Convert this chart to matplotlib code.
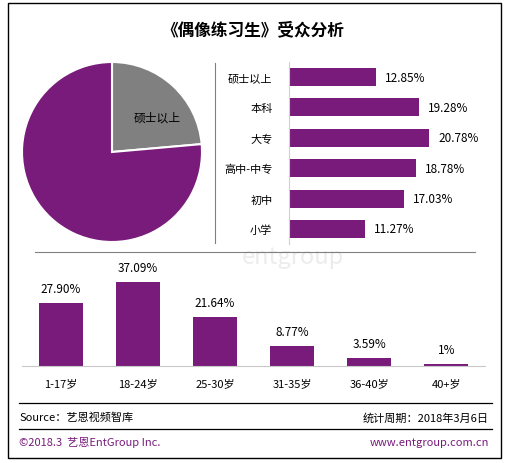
import numpy as np
import matplotlib.pyplot as plt
from matplotlib.patches import Rectangle
from matplotlib.lines import Line2D

plt.rcParams['font.family'] = ['Noto Sans CJK SC', 'DejaVu Sans']

# data
pie_labels = ["硕士以上", "其他"]
pie_values = [23.6, 76.4]

edu_labels = ["硕士以上", "本科", "大专", "高中-中专", "初中", "小学"]
edu_values = [12.85, 19.28, 20.78, 18.78, 17.03, 11.27]

age_labels = ["1-17岁", "18-24岁", "25-30岁", "31-35岁", "36-40岁", "40+岁"]
age_values = [27.90, 37.09, 21.64, 8.77, 3.59, 1.0]
age_text = ["27.90%", "37.09%", "21.64%", "8.77%", "3.59%", "1%"]

PURPLE = "#781b7b"
GRAY = "#808080"
W, H = 505, 464


def px_axes(fig, left, top, right, bottom):
    # axes placed by pixel box (top-left origin)
    return fig.add_axes([left / W, 1 - bottom / H, (right - left) / W, (bottom - top) / H])


def main():
    fig = plt.figure(figsize=(W / 100, H / 100), dpi=100)
    fig.patch.set_facecolor("white")

    # overlay for frame, lines and texts in pixel coords
    over = fig.add_axes([0, 0, 1, 1])
    over.set_xlim(0, W)
    over.set_ylim(H, 0)
    over.axis("off")
    over.add_patch(Rectangle((8, 4), 493, 455, fill=False, ec="black", lw=1))
    over.text(W / 2, 30, "《偶像练习生》受众分析", ha="center", va="center",
              fontsize=12, fontweight="bold")
    # faint watermark
    over.text(293, 258, "entgroup", ha="center", va="center", fontsize=17,
              color="#ececec", zorder=0)
    over.add_line(Line2D([215, 215], [64, 244], color="#808080", lw=0.8))
    over.add_line(Line2D([35, 475], [253, 253], color="#808080", lw=0.8))
    over.add_line(Line2D([19, 492], [404, 404], color="black", lw=0.9))
    over.add_line(Line2D([19, 492], [430, 430], color="black", lw=0.9))
    over.text(19, 418, "Source：艺恩视频智库", ha="left", va="center", fontsize=8)
    over.text(489, 418, "统计周期：2018年3月6日", ha="right", va="center", fontsize=8)
    over.text(19, 443, "©2018.3  艺恩EntGroup Inc.", ha="left", va="center",
              fontsize=8, color=PURPLE)
    over.text(489, 443, "www.entgroup.com.cn", ha="right", va="center",
              fontsize=8, color=PURPLE)

    # pie
    ax_pie = px_axes(fig, 22, 63, 202, 243)
    wedges, _ = ax_pie.pie(pie_values, colors=[GRAY, PURPLE], startangle=90,
                           counterclock=False, radius=1,
                           wedgeprops=dict(edgecolor="white", linewidth=1.5))
    ax_pie.set_xlim(-1, 1)
    ax_pie.set_ylim(-1, 1)
    ax_pie.set_aspect("equal")
    w0 = wedges[0]
    mid = np.deg2rad((w0.theta1 + w0.theta2) / 2 - 10)
    ax_pie.text(0.63 * np.cos(mid), 0.63 * np.sin(mid), pie_labels[0],
                ha="center", va="center", fontsize=8.5)

    # education bars
    ax_h = px_axes(fig, 289, 62.8, 458, 245.2)
    y = np.arange(len(edu_values))
    ax_h.barh(y, edu_values, height=0.59, color=PURPLE)
    ax_h.set_xlim(0, 25)
    ax_h.set_ylim(len(edu_values) - 0.5, -0.5)
    for yi, v in zip(y, edu_values):
        ax_h.text(v + 1.3, yi, f"{v:.2f}%", ha="left", va="center", fontsize=8.5)
    ax_h.set_yticks(y)
    ax_h.set_yticklabels(edu_labels, fontsize=8)
    ax_h.tick_params(axis="y", length=0, pad=12)
    ax_h.set_xticks([])
    for s in ["top", "right", "bottom"]:
        ax_h.spines[s].set_visible(False)
    ax_h.spines["left"].set_color("#d0d0d0")
    ax_h.patch.set_alpha(0)

    # age bars
    ax_v = px_axes(fig, 22, 260, 485, 367)
    x = np.arange(len(age_values))
    ax_v.bar(x, age_values, width=0.57, color=PURPLE)
    ax_v.set_xlim(-0.5, len(age_values) - 0.5)
    ax_v.set_ylim(0, 107 / 2.27)
    for xi, v, t in zip(x, age_values, age_text):
        ax_v.text(xi, v + 3.5, t, ha="center", va="bottom", fontsize=8.5)
    ax_v.set_xticks(x)
    ax_v.set_xticklabels(age_labels, fontsize=8)
    ax_v.tick_params(axis="x", length=0, pad=9)
    ax_v.set_yticks([])
    for s in ["top", "right", "left"]:
        ax_v.spines[s].set_visible(False)
    ax_v.spines["bottom"].set_color("#c8c8c8")
    ax_v.patch.set_alpha(0)

    fig.savefig("out.png", dpi=100)


if __name__ == "__main__":
    main()
